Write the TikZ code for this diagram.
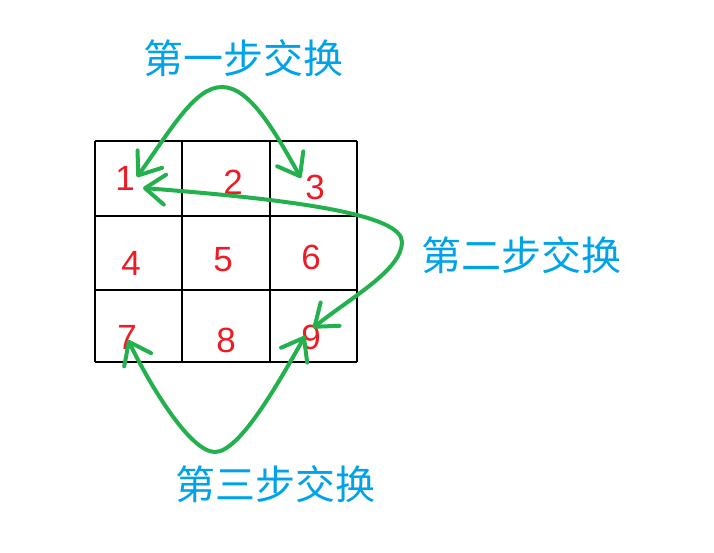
\documentclass[tikz,border=0pt]{standalone}
\usepackage{fontspec}
\setmainfont{Liberation Sans}
\newfontfamily\cjk{Noto Sans CJK SC}
\usepackage{tikz}
\usetikzlibrary{arrows.meta}

\definecolor{numred}{HTML}{ED1C24}
\definecolor{stepblue}{HTML}{00A2E8}
\definecolor{arrowgreen}{HTML}{22B14C}

\tikzset{
  num/.style={text=numred,inner sep=0pt,font=\fontsize{35}{36}\selectfont},
  steplabel/.style={text=stepblue,inner sep=0pt,font=\cjk\fontsize{40}{42}\selectfont},
  swaparrow/.style={draw=arrowgreen,line width=4pt,line cap=round,line join=round,
    {Straight Barb[length=20pt,width=30pt,round]}-{Straight Barb[length=20pt,width=30pt,round]}}
}

\begin{document}
\begin{tikzpicture}[x=1pt,y=-1pt]
\useasboundingbox (0,0) rectangle (714,552);

% mreza
\foreach \x in {95,182,270,357}
\draw[line width=1.3pt] (\x,141)--(\x,362);
\foreach \y in {141,216,290,362}
\draw[line width=1.3pt] (95,\y)--(357,\y);

\node[num] (n1) at (125,178){1};
\node[num] (n2) at (233,182){2};
\node[num] (n3) at (315,187){3};
\node[num] (n4) at (131,263){4};
\node[num] (n5) at (223,260){5};
\node[num] (n6) at (311,257){6};
\node[num] (n7) at (127,337){7};
\node[num] (n8) at (226,340){8};
\node[num] (n9) at (311,337){9};

\node[steplabel] (step1) at (243,58){第一步交换};
\node[steplabel] (step2) at (521,255){第二步交换};
\node[steplabel] (step3) at (275,484){第三步交换};

% konci puscic
\coordinate (a1) at (137,177);
\coordinate (a3) at (301,178);
\coordinate (b1) at (143,188);
\coordinate (b9) at (313,328);
\coordinate (c7) at (128,340);
\coordinate (c9) at (305,336);

% pomozne tocke
\coordinate (p1) at (222,87);
\coordinate (p2) at (402,242);
\coordinate (p3) at (215,452);

\draw[swaparrow] (a3) .. controls (275,132) and (250,87) .. (p1)
  .. controls (195,87) and (172,128) .. (a1);
\draw[swaparrow] (b9) .. controls (350,298) and (402,270) .. (p2)
  .. controls (402,215) and (300,200) .. (b1);
\draw[swaparrow] (c7) .. controls (150,385) and (190,452) .. (p3)
  .. controls (240,452) and (280,380) .. (c9);
\end{tikzpicture}
\end{document}
